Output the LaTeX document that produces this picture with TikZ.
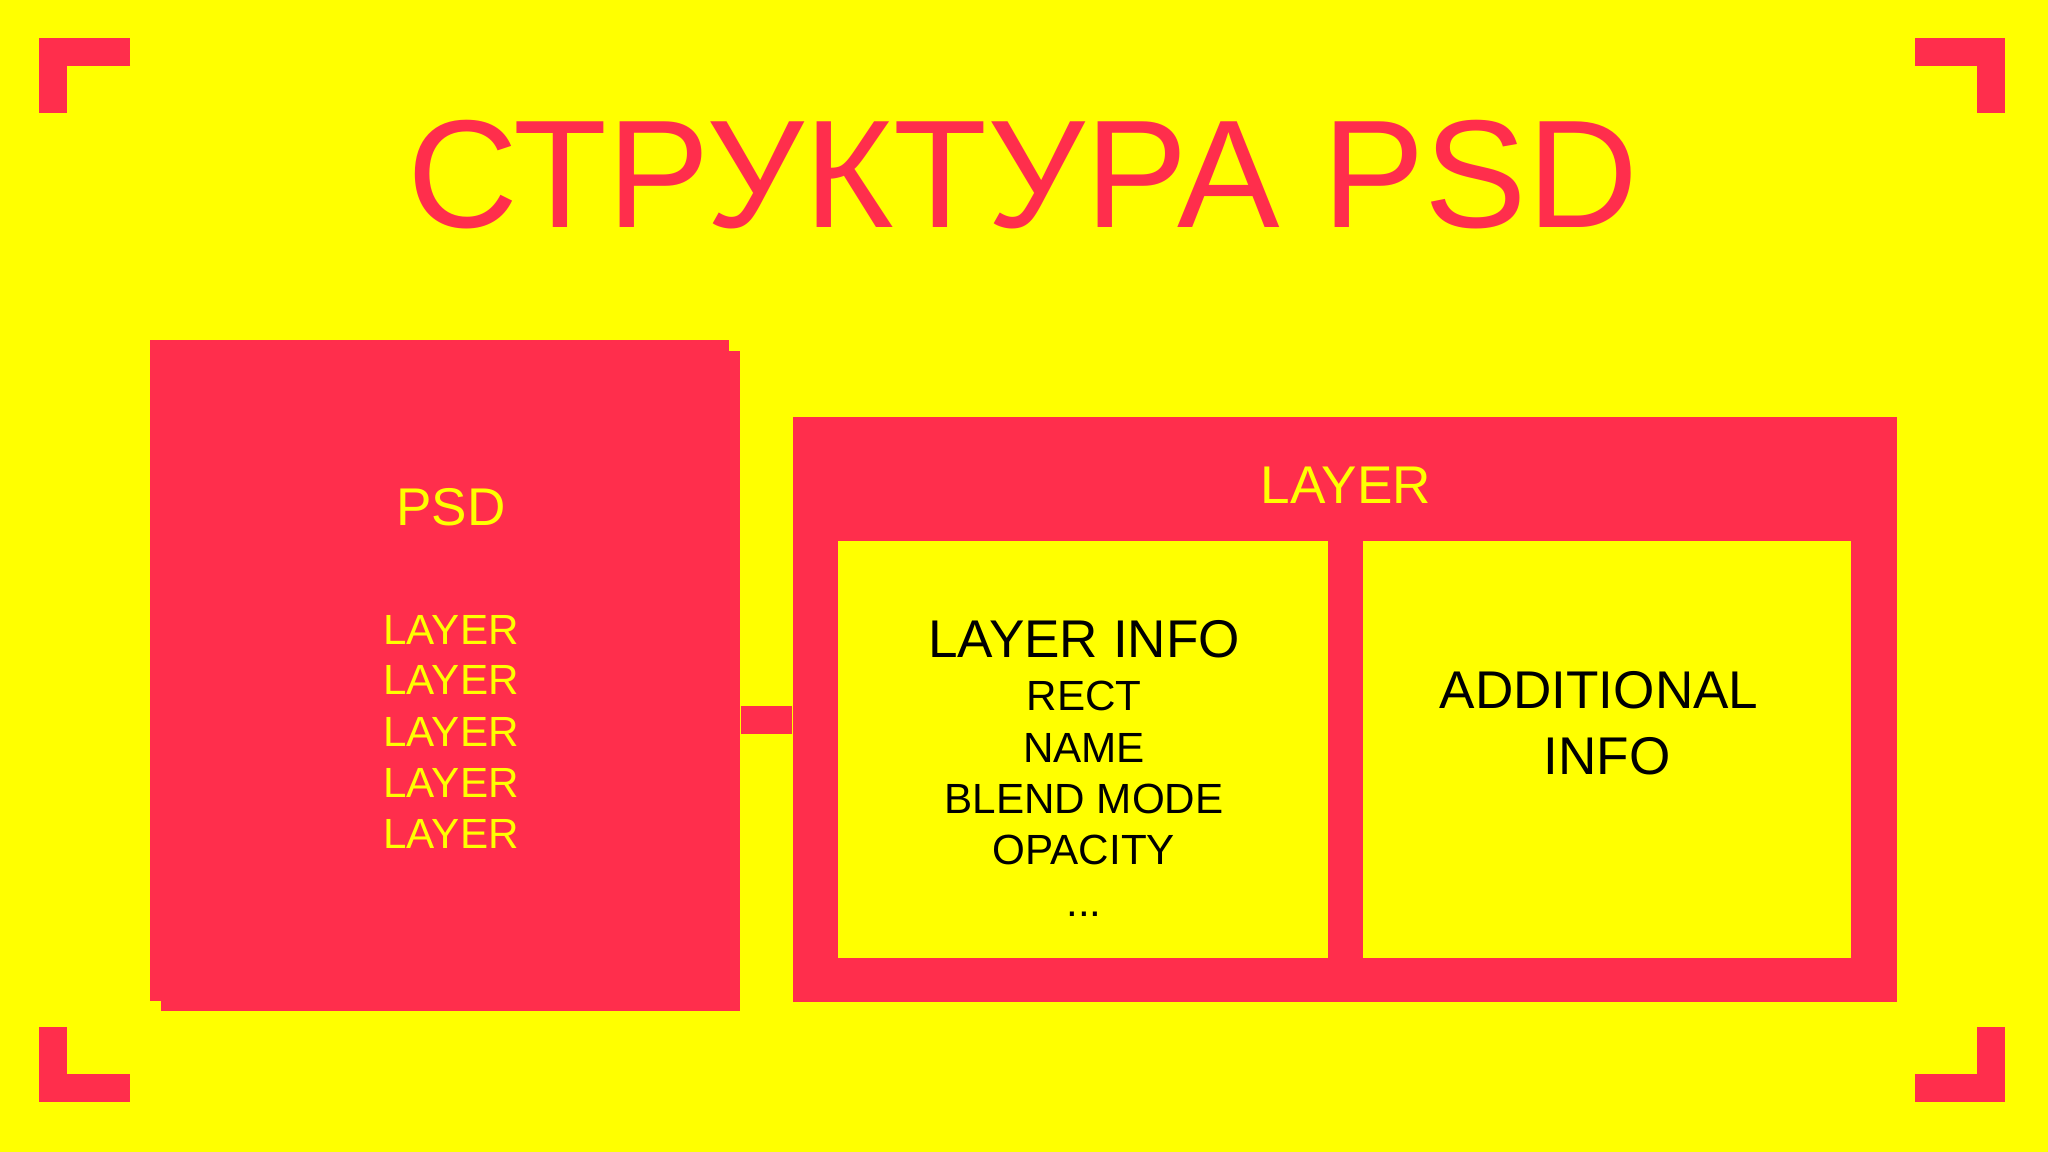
\documentclass[tikz,border=0pt]{standalone}
\usepackage{fontspec}
\setmainfont{Liberation Sans}
\usepackage{tikz}
\usepackage{xcolor}
\usetikzlibrary{positioning}

\definecolor{psdred}{RGB}{255,46,76}
\definecolor{psdyellow}{RGB}{255,255,0}

\begin{document}
\begin{tikzpicture}[x=0.01cm, y=-0.01cm,
  box/.style={rectangle, fill=psdred, inner sep=0pt},
  cell/.style={rectangle, fill=psdyellow, inner sep=0pt, minimum height=4.17cm},
  big/.style={font=\fontsize{15.1}{18}\selectfont, anchor=base, inner sep=0pt},
  small/.style={font=\fontsize{12}{14}\selectfont, anchor=base, inner sep=0pt},
  corner/.style={draw=psdred, line width=0.28cm},
  link/.style={draw=psdred, line width=0.28cm}]

\fill[psdyellow] (0,0) rectangle (2048,1152);

\draw[corner] (130,52) -- (53,52) -- (53,113);
\draw[corner] (1915,52) -- (1991,52) -- (1991,113);
\draw[corner] (53,1027) -- (53,1088) -- (130,1088);
\draw[corner] (1991,1027) -- (1991,1088) -- (1915,1088);

\node[font=\fontsize{43.7}{50}\selectfont, text=psdred, anchor=base, inner sep=0pt] (title) at (1023,228) {СТРУКТУРА PSD};

\node[box, minimum width=5.79cm, minimum height=6.61cm] (psdback) at (439.5,670.5) {};
\node[box, minimum width=5.79cm, minimum height=6.60cm] (psd) at (450.5,681) {};
\node[big, text=psdyellow] (psdlabel) at (451,525) {PSD};
\foreach \i in {1,...,5}
  \node[small, text=psdyellow] (layer\i) at (451,{644+51*(\i-1)}) {LAYER};

\node[box, minimum width=11.04cm, minimum height=5.85cm] (layerbox) at (1345,709.5) {};
\node[big, text=psdyellow] (layerlabel) at (1346,504) {LAYER};

\draw[link] ([yshift=-0.39cm]psd.east) -- ([yshift=-0.39cm]psd.east -| layerbox.west);

\node[cell, minimum width=4.90cm] (info) at (1083,749.5) {};
\node[cell, minimum width=4.88cm] (extra) at (1607,749.5) {};

\node[big] (infotitle) at (1084,657) {LAYER INFO};
\node[small] (rect) at (1084,710) {RECT};
\node[small] (name) at (1084,762) {NAME};
\node[small] (blend) at (1084,813) {BLEND MODE};
\node[small] (opacity) at (1084,864) {OPACITY};
\node[small] (more) at (1084,916) {...};

\node[big] (additional) at (1599,708) {ADDITIONAL};
\node[big] (extrainfo) at (1607,774) {INFO};

\end{tikzpicture}
\end{document}
